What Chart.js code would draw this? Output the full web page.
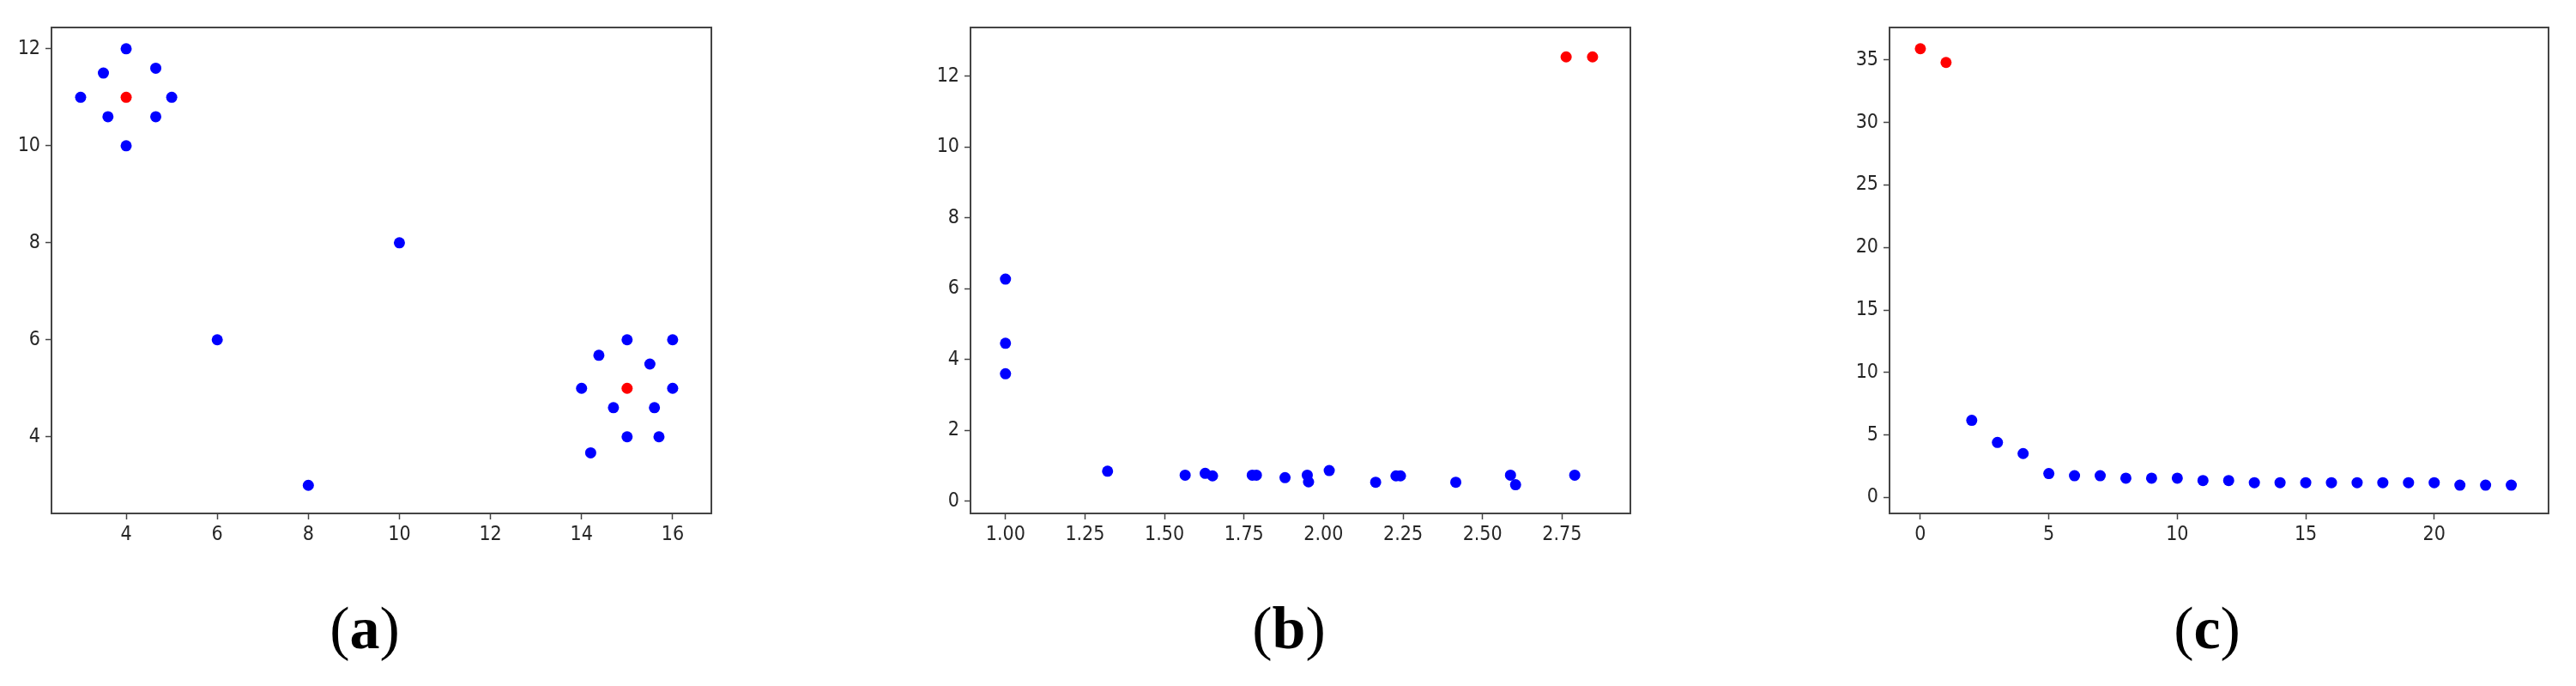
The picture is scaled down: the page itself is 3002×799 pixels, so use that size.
<!DOCTYPE html>
<html>
<head>
<meta charset="utf-8">
<script src="https://cdn.jsdelivr.net/npm/chart.js@4.4.1/dist/chart.umd.min.js"></script>
<style>
  html, body { margin: 0; padding: 0; background: #fff; }
  body { width: 3002px; height: 799px; position: relative; overflow: hidden; }
  .panel { position: absolute; top: 0; height: 660px; }
  .label {
    position: absolute; top: 692px; width: 200px; text-align: center;
    font-family: "Liberation Serif", "DejaVu Serif", serif; font-size: 70px; color: #000;
  }
  .label b { font-weight: bold; }
</style>
</head>
<body>
<div class="panel" style="left:0;width:850px"><canvas id="chartA"></canvas></div>
<div class="panel" style="left:1050px;width:870px"><canvas id="chartB"></canvas></div>
<div class="panel" style="left:2120px;width:870px"><canvas id="chartC"></canvas></div>
<div class="label" style="left:325px">(<b>a</b>)</div>
<div class="label" style="left:1402px">(<b>b</b>)</div>
<div class="label" style="left:2472px">(<b>c</b>)</div>

<script>
// (a) points and cluster centres
const aBlueX = [4, 3.5, 4.65, 3, 5, 3.6, 4.65, 4, 6, 10, 8, 15, 16, 14.38, 15.5, 14, 16, 14.7, 15.6, 15, 15.7, 14.2];
const aBlueY = [12, 11.5, 11.6, 11, 11, 10.6, 10.6, 10, 6, 8, 3, 6, 6, 5.68, 5.5, 5, 5, 4.6, 4.6, 4, 4, 3.67];
const aRedX = [4, 15];
const aRedY = [11, 5];
const aTicksX = [4, 6, 8, 10, 12, 14, 16];
const aTicksY = [4, 6, 8, 10, 12];

// (b) decision graph
const bBlueX = [1.0, 1.0, 1.0, 1.321, 1.565, 1.628, 1.651, 1.776, 1.789, 1.879, 1.949, 1.953, 2.018, 2.164, 2.228, 2.242, 2.416, 2.588, 2.604, 2.79];
const bBlueY = [6.27, 4.46, 3.6, 0.85, 0.74, 0.79, 0.72, 0.74, 0.74, 0.67, 0.74, 0.55, 0.87, 0.54, 0.72, 0.72, 0.54, 0.74, 0.47, 0.74];
const bRedX = [2.763, 2.846];
const bRedY = [12.54, 12.54];
const bTicksX = [1.0, 1.25, 1.5, 1.75, 2.0, 2.25, 2.5, 2.75];
const bTicksY = [0, 2, 4, 6, 8, 10, 12];

// (c) sorted gamma values
const cRedX = [0, 1];
const cRedY = [35.9, 34.8];
const cBlueX = [2, 3, 4, 5, 6, 7, 8, 9, 10, 11, 12, 13, 14, 15, 16, 17, 18, 19, 20, 21, 22, 23];
const cBlueY = [6.17, 4.4, 3.51, 1.91, 1.74, 1.74, 1.54, 1.54, 1.54, 1.35, 1.35, 1.18, 1.18, 1.18, 1.18, 1.18, 1.18, 1.18, 1.18, 0.98, 0.98, 0.98];
const cTicksX = [0, 5, 10, 15, 20];
const cTicksY = [0, 5, 10, 15, 20, 25, 30, 35];

const BLUE = "#0000ff";
const RED = "#ff0000";
const AXIS = "#444444";
const TICKFONT = { family: "'DejaVu Sans Condensed', 'DejaVu Sans', sans-serif", size: 23 };

const pairs = (xs, ys) => xs.map((x, i) => ({ x: x, y: ys[i] }));

const framePlugin = {
  id: "frame",
  afterDraw(chart) {
    const { ctx, chartArea: a } = chart;
    ctx.save();
    ctx.strokeStyle = AXIS;
    ctx.lineWidth = 2;
    ctx.strokeRect(a.left, a.top, a.right - a.left, a.bottom - a.top);
    ctx.restore();
  },
};

function makeAxis(min, max, ticks, fmt, size, isX) {
  return {
    type: "linear",
    min: min,
    max: max,
    afterBuildTicks: (s) => { s.ticks = ticks.map((v) => ({ value: v })); },
    afterFit: (s) => { if (isX) s.height = size; else s.width = size; },
    grid: { display: true, drawOnChartArea: false, drawTicks: true, tickLength: 7, tickColor: AXIS, tickWidth: 1.5 },
    border: { display: false },
    ticks: { color: "#262626", font: TICKFONT, padding: isX ? 4 : 6, maxRotation: 0, autoSkip: false, callback: fmt },
  };
}

function makeChart(id, blue, red, xAxis, yAxis, padRight) {
  new Chart(document.getElementById(id), {
    type: "scatter",
    data: {
      datasets: [
        { data: blue, backgroundColor: BLUE, borderWidth: 0, pointRadius: 6.5 },
        { data: red, backgroundColor: RED, borderWidth: 0, pointRadius: 6.5 },
      ],
    },
    options: {
      responsive: false,
      animation: false,
      layout: { padding: { top: 32, right: padRight, left: 0, bottom: 0 } },
      plugins: { legend: { display: false }, tooltip: { enabled: false } },
      scales: { x: xAxis, y: yAxis },
    },
    plugins: [framePlugin],
  });
}

function sizeCanvas(id, w, h) {
  const c = document.getElementById(id);
  c.width = w; c.height = h;
  c.style.width = w + "px"; c.style.height = h + "px";
}
sizeCanvas("chartA", 850, 660);
sizeCanvas("chartB", 870, 660);
sizeCanvas("chartC", 870, 660);

const intFmt = (v) => String(v);
const twoFmt = (v) => Number(v).toFixed(2);

makeChart("chartA", pairs(aBlueX, aBlueY), pairs(aRedX, aRedY),
  makeAxis(2.36, 16.85, aTicksX, intFmt, 62, true),
  makeAxis(2.42, 12.44, aTicksY, intFmt, 60, false), 21);

makeChart("chartB", pairs(bBlueX, bBlueY), pairs(bRedX, bRedY),
  makeAxis(0.89, 2.965, bTicksX, twoFmt, 62, true),
  makeAxis(-0.34, 13.37, bTicksY, intFmt, 81, false), 20);

makeChart("chartC", pairs(cBlueX, cBlueY), pairs(cRedX, cRedY),
  makeAxis(-1.2, 24.45, cTicksX, intFmt, 62, true),
  makeAxis(-1.28, 37.6, cTicksY, intFmt, 82, false), 20);
</script>
</body>
</html>
